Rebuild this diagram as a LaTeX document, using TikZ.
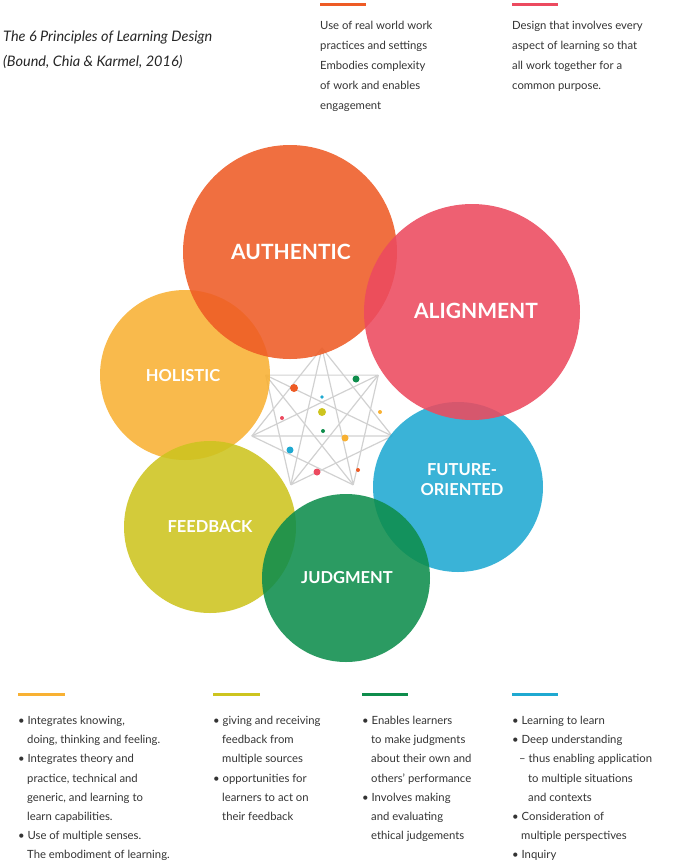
\documentclass[tikz,border=0pt]{standalone}
\usepackage{fontspec}
\setmainfont{Lato}
\begin{document}
\begin{tikzpicture}[x=1pt,y=-1pt,
  circ/.style={circle,inner sep=0pt,opacity=0.88,text opacity=1},
  lbl/.style={text=white,font=\bfseries\fontsize{16.5}{18}\selectfont,align=center},
  big/.style={text=white,font=\bfseries\fontsize{21}{23}\selectfont},
  txt/.style={anchor=north west,align=left,font=\fontsize{11.3}{19.2}\selectfont,text=black!80,inner sep=0pt},
  bar/.style={line width=3pt}]
\useasboundingbox (0,0) rectangle (685,868);
\definecolor{cA}{HTML}{EE5B25}\definecolor{cB}{HTML}{EC4A5F}\definecolor{cH}{HTML}{F8B133}
\definecolor{cF}{HTML}{1FA9D1}\definecolor{cK}{HTML}{CDC41F}\definecolor{cJ}{HTML}{0E8D4C}
% network
\foreach \i in {0,...,6}{
  \coordinate (p\i) at ({322+72*cos(90+360/7*\i)},{420-72*sin(90+360/7*\i)});}
\foreach \i in {0,...,6}{
  \pgfmathtruncatemacro\j{mod(\i+2,7)}\pgfmathtruncatemacro\k{mod(\i+3,7)}
  \draw[black!18,line width=1.2pt] (p\i)--(p\j) (p\i)--(p\k);}
\foreach \x/\y/\r/\c in {294/388/4/cA,356/379/3.5/cJ,322/397/1.8/cF,322/412/4/cK,380/412/2/cH,
   282/418/2/cB,323/431/2/cJ,345/438/3.5/cH,290/450/3.5/cF,317/472/3.5/cB,358/470/2/cA}
  \fill[\c] (\x,\y) circle (\r);
% circles
\node[circ,fill=cH,minimum size=170pt] (hol) at (185,375) {};
\node[circ,fill=cK,minimum size=172pt] (fb) at (210,527) {};
\node[circ,fill=cF,minimum size=170pt] (fut) at (458,487) {};
\node[circ,fill=cJ,minimum size=168pt] (jud) at (346,578) {};
\node[circ,fill=cA,minimum size=214pt] (aut) at (290,252) {};
\node[circ,fill=cB,minimum size=216pt] (ali) at (472,312) {};
\node[big] at (291,252) {AUTHENTIC};
\node[big] at (476,311) {ALIGNMENT};
\node[lbl] at (183,376) {HOLISTIC};
\node[lbl] at (462,480) {FUTURE-\\[2pt]ORIENTED};
\node[lbl] at (210,527) {FEEDBACK};
\node[lbl] at (347,578) {JUDGMENT};
% title
\node[txt,font=\itshape\fontsize{14.5}{25}\selectfont,text=black!85] (ttl) at (3,31) {The 6 Principles of Learning Design\\(Bound, Chia \& Karmel, 2016)};
% top texts
\draw[bar,cA] (320,4)--(366,4);
\node[txt,font=\fontsize{11.3}{20}\selectfont] (t1) at (320,21) {Use of real world work\\practices and settings\\Embodies complexity\\of work and enables\\engagement};
\draw[bar,cB] (512,4)--(558,4);
\node[txt,font=\fontsize{11.3}{20}\selectfont] (t2) at (512,21) {Design that involves every\\aspect of learning so that\\all work together for a\\common purpose.};
% bottom texts
\draw[bar,cH] (18,694)--(65,694);
\draw[bar,cK] (213,694)--(260,694);
\draw[bar,cJ] (362,694)--(408,694);
\draw[bar,cF] (512,694)--(558,694);
\node[txt] (b1) at (18,716) {• Integrates knowing,\\\hspace*{9pt}doing, thinking and feeling.\\• Integrates theory and\\\hspace*{9pt}practice, technical and\\\hspace*{9pt}generic, and learning to\\\hspace*{9pt}learn capabilities.\\• Use of multiple senses.\\\hspace*{9pt}The embodiment of learning.};
\node[txt] (b2) at (213,716) {• giving and receiving\\\hspace*{9pt}feedback from\\\hspace*{9pt}multiple sources\\• opportunities for\\\hspace*{9pt}learners to act on\\\hspace*{9pt}their feedback};
\node[txt] (b3) at (362,716) {• Enables learners\\\hspace*{9pt}to make judgments\\\hspace*{9pt}about their own and\\\hspace*{9pt}others' performance\\• Involves making\\\hspace*{9pt}and evaluating\\\hspace*{9pt}ethical judgements};
\node[txt] (b4) at (512,716) {• Learning to learn\\• Deep understanding\\\hspace*{7pt}– thus enabling application\\\hspace*{16pt}to multiple situations\\\hspace*{16pt}and contexts\\• Consideration of\\\hspace*{9pt}multiple perspectives\\• Inquiry};
\end{tikzpicture}
\end{document}
